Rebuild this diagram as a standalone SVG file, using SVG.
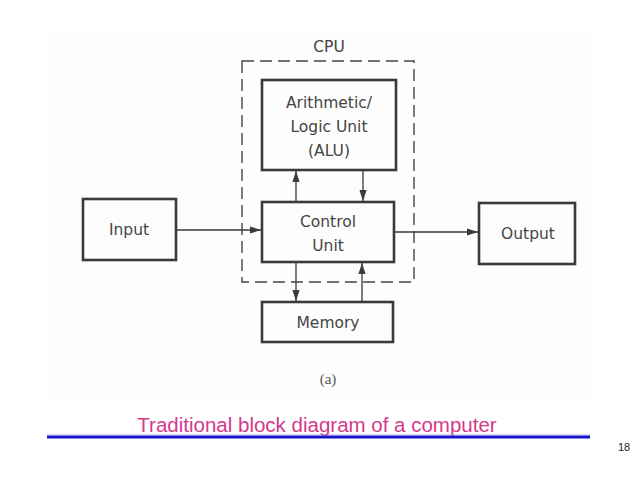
<svg xmlns="http://www.w3.org/2000/svg" width="638" height="479" viewBox="0 0 638 479">
<defs>
<style>
.box{fill:none;stroke:#3a3a3a;stroke-width:2.6}
.lbl{font-family:"DejaVu Sans",sans-serif;font-size:15.5px;fill:#444;text-anchor:middle}
.ln{stroke:#3a3a3a;stroke-width:1.3;fill:none}
.dash{fill:none;stroke:#444;stroke-width:1.4;stroke-dasharray:12,6}
</style>
<marker id="ah" viewBox="0 0 10 10" refX="10" refY="5" markerWidth="11" markerHeight="9" markerUnits="userSpaceOnUse" orient="auto" preserveAspectRatio="none">
<path d="M0,1 L10,5 L0,9 z" fill="#3a3a3a"/>
</marker>
</defs>
<rect width="638" height="479" fill="#fff"/>
<rect x="48" y="32" width="544" height="370" fill="#fdfdfd"/>
<g id="cpu">
<rect class="dash" x="242" y="61" width="172" height="221"/>
<text class="lbl" x="329" y="52">CPU</text>
</g>
<g id="alu">
<rect class="box" x="262" y="80" width="134" height="90"/>
<text class="lbl" x="329" y="108">Arithmetic/</text>
<text class="lbl" x="329" y="132">Logic Unit</text>
<text class="lbl" x="329" y="156">(ALU)</text>
</g>
<g id="control">
<rect class="box" x="262" y="202" width="132" height="60"/>
<text class="lbl" x="328" y="227">Control</text>
<text class="lbl" x="328" y="251">Unit</text>
</g>
<g id="input">
<rect class="box" x="83" y="199" width="93" height="61"/>
<text class="lbl" x="129" y="235">Input</text>
</g>
<g id="output">
<rect class="box" x="479" y="203" width="96" height="61"/>
<text class="lbl" x="528" y="239">Output</text>
</g>
<g id="memory">
<rect class="box" x="262" y="302" width="131" height="40"/>
<text class="lbl" x="328" y="328">Memory</text>
</g>
<g id="connectors">
<line class="ln" x1="176" y1="230" x2="261" y2="230" marker-end="url(#ah)"/>
<line class="ln" x1="394" y1="232" x2="478" y2="232" marker-end="url(#ah)"/>
<line class="ln" x1="296" y1="202" x2="296" y2="171" marker-end="url(#ah)"/>
<line class="ln" x1="363" y1="170" x2="363" y2="201" marker-end="url(#ah)"/>
<line class="ln" x1="296" y1="262" x2="296" y2="301" marker-end="url(#ah)"/>
<line class="ln" x1="362" y1="302" x2="362" y2="263" marker-end="url(#ah)"/>
</g>
<text x="328" y="384" font-family="Liberation Serif, serif" font-size="15" fill="#555" text-anchor="middle">(a)</text>
<text x="317" y="432" font-family="Liberation Sans, Arial, sans-serif" font-size="20.5" fill="#d5398b" text-anchor="middle">Traditional block diagram of a computer</text>
<line x1="47" y1="437" x2="590" y2="437" stroke="#1414cc" stroke-width="3"/>
<line x1="47" y1="435" x2="590" y2="435" stroke="#8a8ae6" stroke-width="0.8"/>
<text x="624" y="451" font-family="Liberation Sans, sans-serif" font-size="11" fill="#222" text-anchor="middle">18</text>
</svg>
